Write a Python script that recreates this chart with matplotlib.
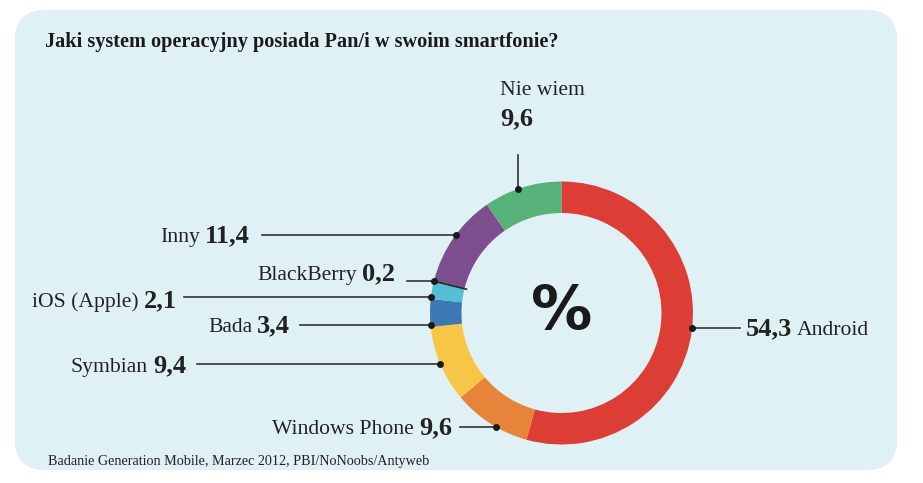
import numpy as np
import matplotlib.pyplot as plt
from matplotlib.patches import FancyBboxPatch

# dane z wykresu
labels = ['Android', 'Windows Phone', 'Symbian', 'Bada', 'iOS (Apple)',
          'BlackBerry', 'Inny', 'Nie wiem']
values = [54.3, 9.6, 9.4, 3.4, 2.1, 0.2, 11.4, 9.6]
colors = ['#dc3e35', '#e8833a', '#f8c647', '#3e78b2', '#54bfd4',
          '#2b2b2b', '#7d4e8d', '#57b27a']
title = 'Jaki system operacyjny posiada Pan/i w swoim smartfonie?'
source = 'Badanie Generation Mobile, Marzec 2012, PBI/NoNoobs/Antyweb'

W, H = 923, 483
cx, cy = 561.5, 313      # srodek pierscienia (px od gory)
R, r_in = 131.5, 100     # promien zewn. / wewn.

# uklad etykiet: (strona, y linii, x konca tekstu, x poczatku linii)
layout = {
    'Inny':          ('left', 235, 250, 262),
    'BlackBerry':    ('left', 281, 395, 407),
    'iOS (Apple)':   ('left', 297, 177, 184),
    'Bada':          ('left', 325, 290, 300),
    'Symbian':       ('left', 364, 186, 197),
    'Windows Phone': ('left', 427, 452, 460),
    'Android':       ('right', 328, 746, 740),
}
text_y = {'Inny': 235, 'BlackBerry': 273, 'iOS (Apple)': 300, 'Bada': 325,
          'Symbian': 365, 'Windows Phone': 427, 'Android': 328}

serif = 'Liberation Serif'
ink = '#222222'
fs_name, fs_num = 15.6, 19

fig = plt.figure(figsize=(W / 100, H / 100), dpi=100)
fig.patch.set_facecolor('white')
ax = fig.add_axes([0, 0, 1, 1])

def Y(y):
    return H - y

box = FancyBboxPatch((15, Y(470)), 882, 460,
                     boxstyle='round,pad=0,rounding_size=30',
                     facecolor='#e0f1f6', edgecolor='none', zorder=0)
ax.add_patch(box)

ax.pie(values, colors=colors, startangle=90, counterclock=False,
       radius=R, center=(cx, Y(cy)),
       wedgeprops=dict(width=R - r_in, linewidth=0))
ax.set_xlim(0, W)
ax.set_ylim(0, H)
ax.set_aspect('equal')
ax.axis('off')

ax.text(562, Y(313), '%', fontsize=44, fontweight='bold',
        family='DejaVu Sans', color='#1a1a1a', ha='center', va='center')

ax.text(45, Y(42), title, fontsize=14.6, fontweight='bold', family=serif,
        color='#1a1a1a', ha='left', va='center')
ax.text(48, Y(462), source, fontsize=10.2, family=serif,
        color='#222222', ha='left', va='center')

fig.canvas.draw()
renderer = fig.canvas.get_renderer()

def num(v):
    return f'{v:.1f}'.replace('.', ',')

for name, v in zip(labels, values):
    if name == 'Nie wiem':
        continue
    side, ly, tx, lx = layout[name]
    dy = ly - cy
    dx = np.sqrt(R ** 2 - dy ** 2)
    dot_x = cx - dx if side == 'left' else cx + dx
    ax.plot([lx, dot_x], [Y(ly), Y(ly)], color='#333333', lw=1.2, zorder=3)
    ax.plot(dot_x, Y(ly), 'o', color='#1a1a1a', ms=4, zorder=4)
    base = Y(text_y[name] + 7)
    if side == 'left':
        t = ax.text(tx, base, num(v), fontsize=fs_num, fontweight='bold',
                    family=serif, color=ink, ha='right', va='baseline')
        bb = t.get_window_extent(renderer)
        ax.text(bb.x0 - 5, base, name, fontsize=fs_name, family=serif,
                color=ink, ha='right', va='baseline')
    else:
        t = ax.text(tx, base, num(v), fontsize=fs_num, fontweight='bold',
                    family=serif, color=ink, ha='left', va='baseline')
        bb = t.get_window_extent(renderer)
        ax.text(bb.x1 + 5, base, name, fontsize=fs_name, family=serif,
                color=ink, ha='left', va='baseline')

# BlackBerry - cienka kreska przez pierscien
i_bb = labels.index('BlackBerry')
mid = 90 - 3.6 * (sum(values[:i_bb]) + values[i_bb] / 2)
ang = np.deg2rad(mid)
ax.plot([cx + R * np.cos(ang), cx + (r_in - 2) * np.cos(ang)],
        [Y(cy) + R * np.sin(ang), Y(cy) + (r_in - 2) * np.sin(ang)],
        color='#2b2b2b', lw=1.2, zorder=3)

# Nie wiem - etykieta nad wykresem
nx = 518
ny = cy - np.sqrt(R ** 2 - (nx - cx) ** 2)
ax.plot([nx, nx], [Y(155), Y(ny)], color='#333333', lw=1.2, zorder=3)
ax.plot(nx, Y(ny), 'o', color='#1a1a1a', ms=4, zorder=4)
ax.text(500, Y(95), 'Nie wiem', fontsize=fs_name, family=serif, color=ink,
        ha='left', va='baseline')
ax.text(500, Y(125), num(values[-1]), fontsize=fs_num, fontweight='bold',
        family=serif, color=ink, ha='left', va='baseline')

fig.savefig('out.png', dpi=100, facecolor='white')
